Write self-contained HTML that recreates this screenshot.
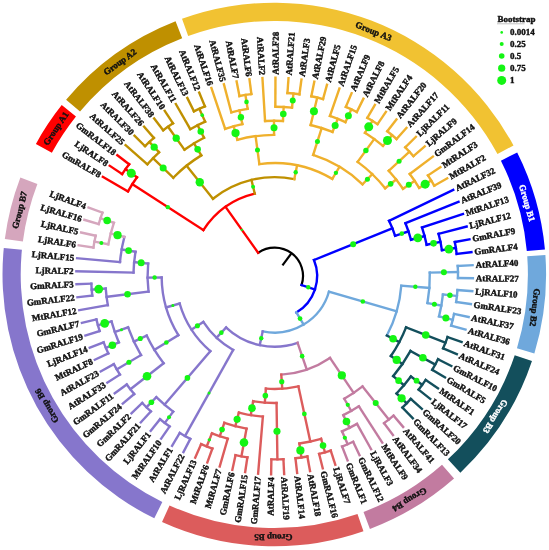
<!DOCTYPE html>
<html><head><meta charset="utf-8"><title>RALF phylogenetic tree</title>
<style>
html,body{margin:0;padding:0;background:#fff}
svg{display:block}
text{font-family:"Liberation Serif","Times New Roman",serif;font-weight:bold;font-size:9px;fill:#111;stroke:#111;stroke-width:0.4px}
</style></head><body>
<svg width="549" height="550" viewBox="0 0 549 550">
<rect width="549" height="550" fill="#fff"/>
<g><path d="M35.89 143.98A271.8 271.8 0 0 1 61.73 105.11L75.97 116.46A253.6 253.6 0 0 0 51.86 152.72Z" fill="#ff0000"/><path d="M66.09 99.79A271.8 271.8 0 0 1 175.57 21.27L182.18 38.22A253.6 253.6 0 0 0 80.03 111.49Z" fill="#bf9000"/><path d="M182.01 18.85A271.8 271.8 0 0 1 513.5 145.43L497.48 154.08A253.6 253.6 0 0 0 188.19 35.97Z" fill="#f1c232"/><path d="M517.18 152.5A271.8 271.8 0 0 1 544.94 249.39L526.82 251.07A253.6 253.6 0 0 0 500.92 160.67Z" fill="#0000ff"/><path d="M545.39 254.93A271.8 271.8 0 0 1 534.36 353.51L516.95 348.22A253.6 253.6 0 0 0 527.24 256.24Z" fill="#6fa8dc"/><path d="M531.98 360.97A271.8 271.8 0 0 1 460.36 472.63L447.9 459.37A253.6 253.6 0 0 0 514.72 355.18Z" fill="#134f5c"/><path d="M454.04 478.38A271.8 271.8 0 0 1 369.93 528.92L363.53 511.88A253.6 253.6 0 0 0 442.01 464.73Z" fill="#c27ba0"/><path d="M363.46 531.26A271.8 271.8 0 0 1 162.02 522.02L169.54 505.45A253.6 253.6 0 0 0 357.49 514.07Z" fill="#dc5c5c"/><path d="M154.3 518.37A271.8 271.8 0 0 1 3.8 247.98L21.91 249.75A253.6 253.6 0 0 0 162.33 502.04Z" fill="#8676cc"/><path d="M4.83 239.02A271.8 271.8 0 0 1 20.38 177.54L37.39 184.03A253.6 253.6 0 0 0 22.87 241.4Z" fill="#d5a6bd"/></g>
<g><text transform="translate(55.87 128.55) rotate(303.75)" text-anchor="middle" dy="3" style="fill:#111;stroke:#111">Group A1</text><text transform="translate(119.89 61.97) rotate(324)" text-anchor="middle" dy="3" style="fill:#111;stroke:#111">Group A2</text><text transform="translate(373.56 31.27) rotate(382.2)" text-anchor="middle" dy="3" style="fill:#111;stroke:#111">Group A3</text><text transform="translate(527.07 202.97) rotate(434.2)" text-anchor="middle" dy="3" style="fill:#fff;stroke:#fff">Group B1</text><text transform="translate(534.93 307.43) rotate(97.2)" text-anchor="middle" dy="3" style="fill:#111;stroke:#111">Group B2</text><text transform="translate(495.36 416.42) rotate(122.7)" text-anchor="middle" dy="3" style="fill:#fff;stroke:#fff">Group B3</text><text transform="translate(409.6 499.68) rotate(149)" text-anchor="middle" dy="3" style="fill:#111;stroke:#111">Group B4</text><text transform="translate(273.38 537.2) rotate(180.2)" text-anchor="middle" dy="3" style="fill:#111;stroke:#111">Group B5</text><text transform="translate(46.8 405.85) rotate(240)" text-anchor="middle" dy="3" style="fill:#111;stroke:#111">Group B6</text><text transform="translate(19.63 210.06) rotate(284.2)" text-anchor="middle" dy="3" style="fill:#111;stroke:#111">Group B7</text></g>
<g fill="none" stroke-linecap="square"><path d="M258.15 252.82A28.42 28.42 0 0 1 301.55 285.03" stroke="#000000" stroke-width="2.2"/><path d="M258.15 252.82L225.54 206.86" stroke="#ff0000" stroke-width="2.4"/><path d="M203.36 230.04A84.78 84.78 0 0 1 254.74 193.58" stroke="#ff0000" stroke-width="2.4"/><path d="M203.36 230.04L132.31 184.22" stroke="#ff0000" stroke-width="2.4"/><path d="M127.96 191.34A169.32 169.32 0 0 1 137.01 177.32" stroke="#ff0000" stroke-width="2.4"/><path d="M127.96 191.34L102.87 176.85" stroke="#ff0000" stroke-width="2.4"/><path d="M137.01 177.32L125.56 169.11" stroke="#ff0000" stroke-width="2.4"/><path d="M122.13 174.06A183.41 183.41 0 0 1 129.15 164.27" stroke="#ff0000" stroke-width="2.4"/><path d="M122.13 174.06L109.75 165.79" stroke="#ff0000" stroke-width="2.4"/><path d="M129.15 164.27L117.34 155.2" stroke="#ff0000" stroke-width="2.4"/><path d="M254.74 193.58L251.44 179.88" stroke="#bf9000" stroke-width="2.4"/><path d="M212.94 198.71A98.87 98.87 0 0 1 294.29 179.11" stroke="#bf9000" stroke-width="2.4"/><path d="M212.94 198.71L186.58 165.67" stroke="#bf9000" stroke-width="2.4"/><path d="M173.28 177.74A141.14 141.14 0 0 1 201.3 155.38" stroke="#bf9000" stroke-width="2.4"/><path d="M173.28 177.74L153.05 158.12" stroke="#bf9000" stroke-width="2.4"/><path d="M147.39 164.25A169.32 169.32 0 0 1 159.01 152.28" stroke="#bf9000" stroke-width="2.4"/><path d="M147.39 164.25L125.62 145.13" stroke="#bf9000" stroke-width="2.4"/><path d="M159.01 152.28L149.39 141.98" stroke="#bf9000" stroke-width="2.4"/><path d="M145.05 146.17A183.41 183.41 0 0 1 153.86 137.94" stroke="#bf9000" stroke-width="2.4"/><path d="M145.05 146.17L134.53 135.63" stroke="#bf9000" stroke-width="2.4"/><path d="M153.86 137.94L144.06 126.73" stroke="#bf9000" stroke-width="2.4"/><path d="M201.3 155.38L193.99 143.34" stroke="#bf9000" stroke-width="2.4"/><path d="M184.41 149.66A155.23 155.23 0 0 1 204.01 137.75" stroke="#bf9000" stroke-width="2.4"/><path d="M184.41 149.66L168.03 126.73" stroke="#bf9000" stroke-width="2.4"/><path d="M163.19 130.31A183.41 183.41 0 0 1 173 123.3" stroke="#bf9000" stroke-width="2.4"/><path d="M163.19 130.31L154.14 118.48" stroke="#bf9000" stroke-width="2.4"/><path d="M173 123.3L164.75 110.91" stroke="#bf9000" stroke-width="2.4"/><path d="M204.01 137.75L197.6 125.2" stroke="#bf9000" stroke-width="2.4"/><path d="M190.26 129.18A169.32 169.32 0 0 1 205.12 121.59" stroke="#bf9000" stroke-width="2.4"/><path d="M190.26 129.18L175.83 104.05" stroke="#bf9000" stroke-width="2.4"/><path d="M205.12 121.59L199.34 108.74" stroke="#bf9000" stroke-width="2.4"/><path d="M193.89 111.31A183.41 183.41 0 0 1 204.88 106.36" stroke="#bf9000" stroke-width="2.4"/><path d="M193.89 111.31L187.33 97.93" stroke="#bf9000" stroke-width="2.4"/><path d="M204.88 106.36L199.22 92.59" stroke="#bf9000" stroke-width="2.4"/><path d="M294.29 179.11L297.1 165.3" stroke="#efb02c" stroke-width="2.4"/><path d="M259.37 164.07A112.96 112.96 0 0 1 332.32 178.9" stroke="#efb02c" stroke-width="2.4"/><path d="M259.37 164.07L255.56 136.15" stroke="#efb02c" stroke-width="2.4"/><path d="M237.4 139.85A141.14 141.14 0 0 1 274.06 134.86" stroke="#efb02c" stroke-width="2.4"/><path d="M237.4 139.85L233.69 126.26" stroke="#efb02c" stroke-width="2.4"/><path d="M225.15 128.86A155.23 155.23 0 0 1 242.36 124.16" stroke="#efb02c" stroke-width="2.4"/><path d="M225.15 128.86L211.42 88.03" stroke="#efb02c" stroke-width="2.4"/><path d="M242.36 124.16L239.43 110.37" stroke="#efb02c" stroke-width="2.4"/><path d="M231.31 112.31A169.32 169.32 0 0 1 247.64 108.84" stroke="#efb02c" stroke-width="2.4"/><path d="M231.31 112.31L223.91 84.29" stroke="#efb02c" stroke-width="2.4"/><path d="M247.64 108.84L245.39 94.93" stroke="#efb02c" stroke-width="2.4"/><path d="M239.46 95.99A183.41 183.41 0 0 1 251.36 94.07" stroke="#efb02c" stroke-width="2.4"/><path d="M239.46 95.99L236.61 81.37" stroke="#efb02c" stroke-width="2.4"/><path d="M251.36 94.07L249.47 79.3" stroke="#efb02c" stroke-width="2.4"/><path d="M274.06 134.86L274.01 120.77" stroke="#efb02c" stroke-width="2.4"/><path d="M265.08 121.06A155.23 155.23 0 0 1 282.93 120.99" stroke="#efb02c" stroke-width="2.4"/><path d="M265.08 121.06L262.44 78.07" stroke="#efb02c" stroke-width="2.4"/><path d="M282.93 120.99L283.68 106.92" stroke="#efb02c" stroke-width="2.4"/><path d="M275.34 106.68A169.32 169.32 0 0 1 292 107.58" stroke="#efb02c" stroke-width="2.4"/><path d="M275.34 106.68L275.47 77.7" stroke="#efb02c" stroke-width="2.4"/><path d="M292 107.58L293.45 93.56" stroke="#efb02c" stroke-width="2.4"/><path d="M287.45 93.04A183.41 183.41 0 0 1 299.44 94.28" stroke="#efb02c" stroke-width="2.4"/><path d="M287.45 93.04L288.49 78.19" stroke="#efb02c" stroke-width="2.4"/><path d="M299.44 94.28L301.45 79.53" stroke="#efb02c" stroke-width="2.4"/><path d="M332.32 178.9L339.52 166.79" stroke="#efb02c" stroke-width="2.4"/><path d="M313.16 154.94A127.05 127.05 0 0 1 362.52 184.29" stroke="#efb02c" stroke-width="2.4"/><path d="M313.16 154.94L321.71 128.09" stroke="#efb02c" stroke-width="2.4"/><path d="M310.66 125.02A155.23 155.23 0 0 1 332.51 131.98" stroke="#efb02c" stroke-width="2.4"/><path d="M310.66 125.02L317.2 97.61" stroke="#efb02c" stroke-width="2.4"/><path d="M311.32 96.3A183.41 183.41 0 0 1 323.04 99.1" stroke="#efb02c" stroke-width="2.4"/><path d="M311.32 96.3L314.3 81.71" stroke="#efb02c" stroke-width="2.4"/><path d="M323.04 99.1L326.97 84.74" stroke="#efb02c" stroke-width="2.4"/><path d="M332.51 131.98L337.77 118.9" stroke="#efb02c" stroke-width="2.4"/><path d="M329.95 115.98A169.32 169.32 0 0 1 345.43 122.21" stroke="#efb02c" stroke-width="2.4"/><path d="M329.95 115.98L339.42 88.59" stroke="#efb02c" stroke-width="2.4"/><path d="M345.43 122.21L351.32 109.41" stroke="#efb02c" stroke-width="2.4"/><path d="M345.81 106.98A183.41 183.41 0 0 1 356.76 112.02" stroke="#efb02c" stroke-width="2.4"/><path d="M345.81 106.98L351.59 93.26" stroke="#efb02c" stroke-width="2.4"/><path d="M356.76 112.02L363.42 98.71" stroke="#efb02c" stroke-width="2.4"/><path d="M362.52 184.29L372.28 174.12" stroke="#efb02c" stroke-width="2.4"/><path d="M357.61 161.85A141.14 141.14 0 0 1 385.15 188.25" stroke="#efb02c" stroke-width="2.4"/><path d="M357.61 161.85L374.18 139.06" stroke="#efb02c" stroke-width="2.4"/><path d="M364.98 132.82A169.32 169.32 0 0 1 382.96 145.9" stroke="#efb02c" stroke-width="2.4"/><path d="M364.98 132.82L372.5 120.9" stroke="#efb02c" stroke-width="2.4"/><path d="M367.35 117.77A183.41 183.41 0 0 1 377.54 124.2" stroke="#efb02c" stroke-width="2.4"/><path d="M367.35 117.77L374.88 104.92" stroke="#efb02c" stroke-width="2.4"/><path d="M377.54 124.2L385.9 111.88" stroke="#efb02c" stroke-width="2.4"/><path d="M382.96 145.9L391.98 135.07" stroke="#efb02c" stroke-width="2.4"/><path d="M387.29 131.29A183.41 183.41 0 0 1 396.55 139" stroke="#efb02c" stroke-width="2.4"/><path d="M387.29 131.29L396.44 119.54" stroke="#efb02c" stroke-width="2.4"/><path d="M396.55 139L406.45 127.88" stroke="#efb02c" stroke-width="2.4"/><path d="M385.15 188.25L396.18 179.49" stroke="#efb02c" stroke-width="2.4"/><path d="M388.72 170.77A155.23 155.23 0 0 1 402.98 188.74" stroke="#efb02c" stroke-width="2.4"/><path d="M388.72 170.77L409.44 151.67" stroke="#efb02c" stroke-width="2.4"/><path d="M405.28 147.31A183.41 183.41 0 0 1 413.45 156.17" stroke="#efb02c" stroke-width="2.4"/><path d="M405.28 147.31L415.89 136.86" stroke="#efb02c" stroke-width="2.4"/><path d="M413.45 156.17L424.72 146.44" stroke="#efb02c" stroke-width="2.4"/><path d="M402.98 188.74L414.63 180.82" stroke="#efb02c" stroke-width="2.4"/><path d="M409.77 174.03A169.32 169.32 0 0 1 419.15 187.83" stroke="#efb02c" stroke-width="2.4"/><path d="M409.77 174.03L432.91 156.58" stroke="#efb02c" stroke-width="2.4"/><path d="M419.15 187.83L431.18 180.5" stroke="#efb02c" stroke-width="2.4"/><path d="M427.96 175.4A183.41 183.41 0 0 1 434.24 185.69" stroke="#efb02c" stroke-width="2.4"/><path d="M427.96 175.4L440.41 167.23" stroke="#efb02c" stroke-width="2.4"/><path d="M434.24 185.69L447.2 178.36" stroke="#efb02c" stroke-width="2.4"/><path d="M301.55 285.03L314.91 289.51" stroke="#0000ff" stroke-width="2.4"/><path d="M313.99 260.02A42.51 42.51 0 0 1 296.4 312.49" stroke="#0000ff" stroke-width="2.4"/><path d="M313.99 260.02L392.33 228.23" stroke="#0000ff" stroke-width="2.4"/><path d="M389.05 220.84A127.05 127.05 0 0 1 395.13 235.82" stroke="#0000ff" stroke-width="2.4"/><path d="M389.05 220.84L453.24 189.91" stroke="#0000ff" stroke-width="2.4"/><path d="M395.13 235.82L408.5 231.37" stroke="#0000ff" stroke-width="2.4"/><path d="M405.49 223.21A141.14 141.14 0 0 1 410.99 239.7" stroke="#0000ff" stroke-width="2.4"/><path d="M405.49 223.21L458.5 201.82" stroke="#0000ff" stroke-width="2.4"/><path d="M410.99 239.7L424.61 236.07" stroke="#0000ff" stroke-width="2.4"/><path d="M422.06 227.51A155.23 155.23 0 0 1 426.65 244.76" stroke="#0000ff" stroke-width="2.4"/><path d="M422.06 227.51L462.98 214.06" stroke="#0000ff" stroke-width="2.4"/><path d="M426.65 244.76L440.46 241.92" stroke="#0000ff" stroke-width="2.4"/><path d="M438.57 233.79A169.32 169.32 0 0 1 441.93 250.14" stroke="#0000ff" stroke-width="2.4"/><path d="M438.57 233.79L466.64 226.57" stroke="#0000ff" stroke-width="2.4"/><path d="M441.93 250.14L455.86 247.98" stroke="#0000ff" stroke-width="2.4"/><path d="M454.84 242.04A183.41 183.41 0 0 1 456.68 253.95" stroke="#0000ff" stroke-width="2.4"/><path d="M454.84 242.04L469.47 239.29" stroke="#0000ff" stroke-width="2.4"/><path d="M456.68 253.95L471.46 252.17" stroke="#0000ff" stroke-width="2.4"/><path d="M296.4 312.49L303.63 324.59" stroke="#6fa8dc" stroke-width="2.4"/><path d="M328.96 291.75A56.6 56.6 0 0 1 262.71 331.34" stroke="#6fa8dc" stroke-width="2.4"/><path d="M328.96 291.75L396.63 311.36" stroke="#6fa8dc" stroke-width="2.4"/><path d="M401.28 285.73A127.05 127.05 0 0 1 386.85 335.51" stroke="#6fa8dc" stroke-width="2.4"/><path d="M401.28 285.73L429.37 287.89" stroke="#6fa8dc" stroke-width="2.4"/><path d="M429.79 272.6A155.23 155.23 0 0 1 427.45 303.07" stroke="#6fa8dc" stroke-width="2.4"/><path d="M429.79 272.6L457.97 271.98" stroke="#6fa8dc" stroke-width="2.4"/><path d="M457.74 265.96A183.41 183.41 0 0 1 458 278.01" stroke="#6fa8dc" stroke-width="2.4"/><path d="M457.74 265.96L472.6 265.15" stroke="#6fa8dc" stroke-width="2.4"/><path d="M458 278.01L472.89 278.17" stroke="#6fa8dc" stroke-width="2.4"/><path d="M427.45 303.07L441.33 305.53" stroke="#6fa8dc" stroke-width="2.4"/><path d="M442.91 294.51A169.32 169.32 0 0 1 439.03 316.41" stroke="#6fa8dc" stroke-width="2.4"/><path d="M442.91 294.51L456.91 296.05" stroke="#6fa8dc" stroke-width="2.4"/><path d="M457.47 290.05A183.41 183.41 0 0 1 456.15 302.03" stroke="#6fa8dc" stroke-width="2.4"/><path d="M457.47 290.05L472.32 291.19" stroke="#6fa8dc" stroke-width="2.4"/><path d="M456.15 302.03L470.89 304.14" stroke="#6fa8dc" stroke-width="2.4"/><path d="M439.03 316.41L452.71 319.77" stroke="#6fa8dc" stroke-width="2.4"/><path d="M454.05 313.9A183.41 183.41 0 0 1 451.18 325.6" stroke="#6fa8dc" stroke-width="2.4"/><path d="M454.05 313.9L468.62 316.98" stroke="#6fa8dc" stroke-width="2.4"/><path d="M451.18 325.6L465.51 329.63" stroke="#6fa8dc" stroke-width="2.4"/><path d="M386.85 335.51L399.3 342.11" stroke="#134f5c" stroke-width="2.4"/><path d="M406.06 327.36A141.14 141.14 0 0 1 390.89 355.98" stroke="#134f5c" stroke-width="2.4"/><path d="M406.06 327.36L445.44 342.74" stroke="#134f5c" stroke-width="2.4"/><path d="M447.54 337.09A183.41 183.41 0 0 1 443.15 348.32" stroke="#134f5c" stroke-width="2.4"/><path d="M447.54 337.09L461.58 342.05" stroke="#134f5c" stroke-width="2.4"/><path d="M443.15 348.32L456.83 354.19" stroke="#134f5c" stroke-width="2.4"/><path d="M390.89 355.98L402.5 363.97" stroke="#134f5c" stroke-width="2.4"/><path d="M410.54 350.95A155.23 155.23 0 0 1 393.22 376.13" stroke="#134f5c" stroke-width="2.4"/><path d="M410.54 350.95L435.21 364.56" stroke="#134f5c" stroke-width="2.4"/><path d="M438.04 359.23A183.41 183.41 0 0 1 432.22 369.79" stroke="#134f5c" stroke-width="2.4"/><path d="M438.04 359.23L451.31 365.99" stroke="#134f5c" stroke-width="2.4"/><path d="M432.22 369.79L445.01 377.4" stroke="#134f5c" stroke-width="2.4"/><path d="M393.22 376.13L403.99 385.22" stroke="#134f5c" stroke-width="2.4"/><path d="M410.88 376.48A169.32 169.32 0 0 1 396.53 393.48" stroke="#134f5c" stroke-width="2.4"/><path d="M410.88 376.48L422.22 384.84" stroke="#134f5c" stroke-width="2.4"/><path d="M425.72 379.94A183.41 183.41 0 0 1 418.57 389.64" stroke="#134f5c" stroke-width="2.4"/><path d="M425.72 379.94L437.99 388.37" stroke="#134f5c" stroke-width="2.4"/><path d="M418.57 389.64L430.25 398.86" stroke="#134f5c" stroke-width="2.4"/><path d="M396.53 393.48L406.68 403.25" stroke="#134f5c" stroke-width="2.4"/><path d="M410.79 398.85A183.41 183.41 0 0 1 402.43 407.53" stroke="#134f5c" stroke-width="2.4"/><path d="M410.79 398.85L421.85 408.82" stroke="#134f5c" stroke-width="2.4"/><path d="M402.43 407.53L412.81 418.2" stroke="#134f5c" stroke-width="2.4"/><path d="M262.71 331.34L259.75 345.11" stroke="#8676cc" stroke-width="2.4"/><path d="M297.58 342.85A70.69 70.69 0 0 1 226.19 327.51" stroke="#8676cc" stroke-width="2.4"/><path d="M297.58 342.85L306.74 369.5" stroke="#c27ba0" stroke-width="2.4"/><path d="M329.98 357.91A98.87 98.87 0 0 1 281.29 374.64" stroke="#c27ba0" stroke-width="2.4"/><path d="M329.98 357.91L353.65 392.92" stroke="#c27ba0" stroke-width="2.4"/><path d="M362.53 386.4A141.14 141.14 0 0 1 344.3 398.73" stroke="#c27ba0" stroke-width="2.4"/><path d="M362.53 386.4L388.86 419.47" stroke="#c27ba0" stroke-width="2.4"/><path d="M393.52 415.64A183.41 183.41 0 0 1 384.09 423.15" stroke="#c27ba0" stroke-width="2.4"/><path d="M393.52 415.64L403.17 426.97" stroke="#c27ba0" stroke-width="2.4"/><path d="M384.09 423.15L392.98 435.09" stroke="#c27ba0" stroke-width="2.4"/><path d="M344.3 398.73L351.25 410.98" stroke="#c27ba0" stroke-width="2.4"/><path d="M358.89 406.35A155.23 155.23 0 0 1 343.37 415.17" stroke="#c27ba0" stroke-width="2.4"/><path d="M358.89 406.35L382.27 442.52" stroke="#c27ba0" stroke-width="2.4"/><path d="M343.37 415.17L349.61 427.8" stroke="#c27ba0" stroke-width="2.4"/><path d="M357 423.92A169.32 169.32 0 0 1 342.04 431.31" stroke="#c27ba0" stroke-width="2.4"/><path d="M357 423.92L371.1 449.23" stroke="#c27ba0" stroke-width="2.4"/><path d="M342.04 431.31L347.65 444.23" stroke="#c27ba0" stroke-width="2.4"/><path d="M353.14 441.74A183.41 183.41 0 0 1 342.09 446.54" stroke="#c27ba0" stroke-width="2.4"/><path d="M353.14 441.74L359.52 455.2" stroke="#c27ba0" stroke-width="2.4"/><path d="M342.09 446.54L347.56 460.39" stroke="#c27ba0" stroke-width="2.4"/><path d="M281.29 374.64L282.24 388.7" stroke="#dc5c5c" stroke-width="2.4"/><path d="M298.42 386.42A112.96 112.96 0 0 1 265.9 388.62" stroke="#dc5c5c" stroke-width="2.4"/><path d="M298.42 386.42L310.31 441.51" stroke="#dc5c5c" stroke-width="2.4"/><path d="M321.1 438.81A169.32 169.32 0 0 1 299.36 443.5" stroke="#dc5c5c" stroke-width="2.4"/><path d="M321.1 438.81L324.97 452.36" stroke="#dc5c5c" stroke-width="2.4"/><path d="M330.74 450.61A183.41 183.41 0 0 1 319.15 453.92" stroke="#dc5c5c" stroke-width="2.4"/><path d="M330.74 450.61L335.3 464.78" stroke="#dc5c5c" stroke-width="2.4"/><path d="M319.15 453.92L322.77 468.36" stroke="#dc5c5c" stroke-width="2.4"/><path d="M299.36 443.5L301.42 457.44" stroke="#dc5c5c" stroke-width="2.4"/><path d="M307.37 456.46A183.41 183.41 0 0 1 295.45 458.22" stroke="#dc5c5c" stroke-width="2.4"/><path d="M307.37 456.46L310.03 471.11" stroke="#dc5c5c" stroke-width="2.4"/><path d="M295.45 458.22L297.14 473.01" stroke="#dc5c5c" stroke-width="2.4"/><path d="M265.9 388.62L264.81 402.67" stroke="#dc5c5c" stroke-width="2.4"/><path d="M276.55 403.04A127.05 127.05 0 0 1 253.17 401.23" stroke="#dc5c5c" stroke-width="2.4"/><path d="M276.55 403.04L277.41 459.39" stroke="#dc5c5c" stroke-width="2.4"/><path d="M283.43 459.2A183.41 183.41 0 0 1 271.38 459.38" stroke="#dc5c5c" stroke-width="2.4"/><path d="M283.43 459.2L284.15 474.07" stroke="#dc5c5c" stroke-width="2.4"/><path d="M271.38 459.38L271.12 474.27" stroke="#dc5c5c" stroke-width="2.4"/><path d="M253.17 401.23L250.79 415.12" stroke="#dc5c5c" stroke-width="2.4"/><path d="M262.86 416.65A141.14 141.14 0 0 1 238.89 412.55" stroke="#dc5c5c" stroke-width="2.4"/><path d="M262.86 416.65L258.11 473.61" stroke="#dc5c5c" stroke-width="2.4"/><path d="M238.89 412.55L235.33 426.18" stroke="#dc5c5c" stroke-width="2.4"/><path d="M246.53 428.67A155.23 155.23 0 0 1 224.34 422.87" stroke="#dc5c5c" stroke-width="2.4"/><path d="M246.53 428.67L241.43 456.39" stroke="#dc5c5c" stroke-width="2.4"/><path d="M247.38 457.38A183.41 183.41 0 0 1 235.52 455.2" stroke="#dc5c5c" stroke-width="2.4"/><path d="M247.38 457.38L245.17 472.1" stroke="#dc5c5c" stroke-width="2.4"/><path d="M235.52 455.2L232.35 469.75" stroke="#dc5c5c" stroke-width="2.4"/><path d="M224.34 422.87L219.78 436.2" stroke="#dc5c5c" stroke-width="2.4"/><path d="M227.74 438.71A169.32 169.32 0 0 1 211.95 433.3" stroke="#dc5c5c" stroke-width="2.4"/><path d="M227.74 438.71L219.72 466.55" stroke="#dc5c5c" stroke-width="2.4"/><path d="M211.95 433.3L206.74 446.39" stroke="#dc5c5c" stroke-width="2.4"/><path d="M212.37 448.53A183.41 183.41 0 0 1 201.17 444.07" stroke="#dc5c5c" stroke-width="2.4"/><path d="M212.37 448.53L207.32 462.54" stroke="#dc5c5c" stroke-width="2.4"/><path d="M201.17 444.07L195.21 457.72" stroke="#dc5c5c" stroke-width="2.4"/><path d="M226.19 327.51L216.54 337.78" stroke="#8676cc" stroke-width="2.4"/><path d="M233.18 349.97A84.78 84.78 0 0 1 203.34 321.93" stroke="#8676cc" stroke-width="2.4"/><path d="M233.18 349.97L184.99 436.03" stroke="#8676cc" stroke-width="2.4"/><path d="M190.3 438.89A183.41 183.41 0 0 1 179.78 433" stroke="#8676cc" stroke-width="2.4"/><path d="M190.3 438.89L183.45 452.11" stroke="#8676cc" stroke-width="2.4"/><path d="M179.78 433L172.08 445.74" stroke="#8676cc" stroke-width="2.4"/><path d="M203.34 321.93L191.5 329.56" stroke="#8676cc" stroke-width="2.4"/><path d="M210.33 351.13A98.87 98.87 0 0 1 179.63 303.51" stroke="#8676cc" stroke-width="2.4"/><path d="M210.33 351.13L164.54 404.67" stroke="#8676cc" stroke-width="2.4"/><path d="M173.22 411.62A169.32 169.32 0 0 1 156.32 397.16" stroke="#8676cc" stroke-width="2.4"/><path d="M173.22 411.62L164.79 422.9" stroke="#8676cc" stroke-width="2.4"/><path d="M169.67 426.43A183.41 183.41 0 0 1 160.02 419.22" stroke="#8676cc" stroke-width="2.4"/><path d="M169.67 426.43L161.15 438.64" stroke="#8676cc" stroke-width="2.4"/><path d="M160.02 419.22L150.72 430.84" stroke="#8676cc" stroke-width="2.4"/><path d="M156.32 397.16L146.48 407.24" stroke="#8676cc" stroke-width="2.4"/><path d="M150.86 411.38A183.41 183.41 0 0 1 142.24 402.96" stroke="#8676cc" stroke-width="2.4"/><path d="M150.86 411.38L140.82 422.37" stroke="#8676cc" stroke-width="2.4"/><path d="M142.24 402.96L131.49 413.27" stroke="#8676cc" stroke-width="2.4"/><path d="M179.63 303.51L166.1 307.42" stroke="#8676cc" stroke-width="2.4"/><path d="M178.36 335.14A112.96 112.96 0 0 1 161.65 277.45" stroke="#8676cc" stroke-width="2.4"/><path d="M178.36 335.14L154.35 349.89" stroke="#8676cc" stroke-width="2.4"/><path d="M163.62 363.2A141.14 141.14 0 0 1 146.66 335.6" stroke="#8676cc" stroke-width="2.4"/><path d="M163.62 363.2L130.38 389.32" stroke="#8676cc" stroke-width="2.4"/><path d="M134.18 393.99A183.41 183.41 0 0 1 126.74 384.52" stroke="#8676cc" stroke-width="2.4"/><path d="M134.18 393.99L122.78 403.57" stroke="#8676cc" stroke-width="2.4"/><path d="M126.74 384.52L114.73 393.33" stroke="#8676cc" stroke-width="2.4"/><path d="M146.66 335.6L133.89 341.55" stroke="#8676cc" stroke-width="2.4"/><path d="M141.02 355.08A155.23 155.23 0 0 1 128.12 327.38" stroke="#8676cc" stroke-width="2.4"/><path d="M141.02 355.08L116.78 369.44" stroke="#8676cc" stroke-width="2.4"/><path d="M119.93 374.57A183.41 183.41 0 0 1 113.79 364.2" stroke="#8676cc" stroke-width="2.4"/><path d="M119.93 374.57L107.37 382.57" stroke="#8676cc" stroke-width="2.4"/><path d="M113.79 364.2L100.74 371.36" stroke="#8676cc" stroke-width="2.4"/><path d="M128.12 327.38L114.82 332.05" stroke="#8676cc" stroke-width="2.4"/><path d="M118.85 342.42A169.32 169.32 0 0 1 111.49 321.43" stroke="#8676cc" stroke-width="2.4"/><path d="M118.85 342.42L105.89 347.95" stroke="#8676cc" stroke-width="2.4"/><path d="M108.34 353.45A183.41 183.41 0 0 1 103.62 342.36" stroke="#8676cc" stroke-width="2.4"/><path d="M108.34 353.45L94.85 359.74" stroke="#8676cc" stroke-width="2.4"/><path d="M103.62 342.36L89.74 347.75" stroke="#8676cc" stroke-width="2.4"/><path d="M111.49 321.43L97.92 325.21" stroke="#8676cc" stroke-width="2.4"/><path d="M99.63 330.99A183.41 183.41 0 0 1 96.39 319.38" stroke="#8676cc" stroke-width="2.4"/><path d="M99.63 330.99L85.42 335.45" stroke="#8676cc" stroke-width="2.4"/><path d="M96.39 319.38L81.93 322.9" stroke="#8676cc" stroke-width="2.4"/><path d="M161.65 277.45L147.56 277.63" stroke="#8676cc" stroke-width="2.4"/><path d="M148.52 291.68A127.05 127.05 0 0 1 148.16 263.56" stroke="#8676cc" stroke-width="2.4"/><path d="M148.52 291.68L106.58 296.9" stroke="#8676cc" stroke-width="2.4"/><path d="M107.81 305.16A169.32 169.32 0 0 1 105.75 288.6" stroke="#8676cc" stroke-width="2.4"/><path d="M107.81 305.16L79.26 310.15" stroke="#8676cc" stroke-width="2.4"/><path d="M105.75 288.6L91.7 289.65" stroke="#8676cc" stroke-width="2.4"/><path d="M92.25 295.65A183.41 183.41 0 0 1 91.35 283.63" stroke="#8676cc" stroke-width="2.4"/><path d="M92.25 295.65L77.44 297.24" stroke="#8676cc" stroke-width="2.4"/><path d="M91.35 283.63L76.47 284.25" stroke="#8676cc" stroke-width="2.4"/><path d="M148.16 263.56L134.14 262.18" stroke="#8676cc" stroke-width="2.4"/><path d="M133.5 272.6A141.14 141.14 0 0 1 135.54 251.84" stroke="#8676cc" stroke-width="2.4"/><path d="M133.5 272.6L76.36 271.22" stroke="#8676cc" stroke-width="2.4"/><path d="M135.54 251.84L121.66 249.43" stroke="#8676cc" stroke-width="2.4"/><path d="M120 262.07A155.23 155.23 0 0 1 124.36 236.97" stroke="#8676cc" stroke-width="2.4"/><path d="M120 262.07L77.1 258.21" stroke="#8676cc" stroke-width="2.4"/><path d="M124.36 236.97L110.72 233.43" stroke="#d5a6bd" stroke-width="2.4"/><path d="M108.28 244.28A169.32 169.32 0 0 1 113.87 222.76" stroke="#d5a6bd" stroke-width="2.4"/><path d="M108.28 244.28L94.44 241.65" stroke="#d5a6bd" stroke-width="2.4"/><path d="M93.4 247.58A183.41 183.41 0 0 1 95.66 235.74" stroke="#d5a6bd" stroke-width="2.4"/><path d="M93.4 247.58L78.69 245.28" stroke="#d5a6bd" stroke-width="2.4"/><path d="M95.66 235.74L81.14 232.48" stroke="#d5a6bd" stroke-width="2.4"/><path d="M113.87 222.76L100.49 218.33" stroke="#d5a6bd" stroke-width="2.4"/><path d="M98.69 224.08A183.41 183.41 0 0 1 102.48 212.64" stroke="#d5a6bd" stroke-width="2.4"/><path d="M98.69 224.08L84.41 219.86" stroke="#d5a6bd" stroke-width="2.4"/><path d="M102.48 212.64L88.51 207.49" stroke="#d5a6bd" stroke-width="2.4"/><path d="M291.54 253.18L282.47 265.4" stroke="#000" stroke-width="2.2" stroke-linecap="butt"/></g>
<g fill="#14f514"><circle cx="241.84" cy="229.84" r="1.2"/><circle cx="167.84" cy="207.13" r="2.2"/><circle cx="131.28" cy="173.21" r="4.5"/><circle cx="253.09" cy="186.73" r="2.0"/><circle cx="199.76" cy="182.19" r="4.2"/><circle cx="163.17" cy="167.93" r="3.5"/><circle cx="154.2" cy="147.13" r="3.6"/><circle cx="197.64" cy="149.36" r="3.3"/><circle cx="176.22" cy="138.19" r="3.65"/><circle cx="200.8" cy="131.48" r="3.3"/><circle cx="202.23" cy="115.17" r="1.8"/><circle cx="295.7" cy="172.21" r="2.2"/><circle cx="257.47" cy="150.11" r="2.5"/><circle cx="235.54" cy="133.05" r="4.1"/><circle cx="240.9" cy="117.26" r="3.2"/><circle cx="246.51" cy="101.89" r="2.3"/><circle cx="274.03" cy="127.82" r="3.5"/><circle cx="283.31" cy="113.96" r="3.3"/><circle cx="292.73" cy="100.57" r="3.0"/><circle cx="335.92" cy="172.85" r="2.2"/><circle cx="317.44" cy="141.52" r="2.5"/><circle cx="313.93" cy="111.31" r="4.0"/><circle cx="335.14" cy="125.44" r="3.5"/><circle cx="348.38" cy="115.81" r="3.5"/><circle cx="367.4" cy="179.2" r="2.5"/><circle cx="365.9" cy="150.46" r="2.7"/><circle cx="368.74" cy="126.86" r="4.5"/><circle cx="387.47" cy="140.48" r="4.5"/><circle cx="390.67" cy="183.87" r="2.8"/><circle cx="399.08" cy="161.22" r="2.5"/><circle cx="408.81" cy="184.78" r="3.0"/><circle cx="425.17" cy="184.16" r="4.5"/><circle cx="308.23" cy="287.27" r="2.2"/><circle cx="353.16" cy="244.13" r="3.0"/><circle cx="401.81" cy="233.59" r="2.4"/><circle cx="417.8" cy="237.88" r="4.4"/><circle cx="433.55" cy="243.34" r="3.3"/><circle cx="448.9" cy="249.06" r="4.4"/><circle cx="300.02" cy="318.54" r="2.4"/><circle cx="362.8" cy="301.56" r="2.3"/><circle cx="415.33" cy="286.81" r="2.2"/><circle cx="443.88" cy="272.29" r="3.0"/><circle cx="434.39" cy="304.3" r="2.5"/><circle cx="449.91" cy="295.28" r="2.7"/><circle cx="445.87" cy="318.09" r="3.5"/><circle cx="393.08" cy="338.81" r="3.8"/><circle cx="425.75" cy="335.05" r="3.8"/><circle cx="396.69" cy="359.97" r="4.1"/><circle cx="422.88" cy="357.75" r="3.8"/><circle cx="398.6" cy="380.67" r="3.3"/><circle cx="416.55" cy="380.66" r="2.9"/><circle cx="401.61" cy="398.37" r="4.1"/><circle cx="261.23" cy="338.23" r="2.2"/><circle cx="302.16" cy="356.17" r="2.3"/><circle cx="341.82" cy="375.41" r="4.1"/><circle cx="375.7" cy="402.94" r="3.0"/><circle cx="347.78" cy="404.86" r="2.1"/><circle cx="346.49" cy="421.48" r="3.8"/><circle cx="344.85" cy="437.77" r="2.1"/><circle cx="281.76" cy="381.67" r="2.6"/><circle cx="304.37" cy="413.97" r="2.4"/><circle cx="323.04" cy="445.58" r="3.3"/><circle cx="300.39" cy="450.47" r="4.1"/><circle cx="265.36" cy="395.65" r="2.8"/><circle cx="276.98" cy="431.21" r="3.55"/><circle cx="251.98" cy="408.17" r="3.8"/><circle cx="237.11" cy="419.36" r="3.55"/><circle cx="243.98" cy="442.53" r="4.3"/><circle cx="222.06" cy="429.53" r="2.8"/><circle cx="209.34" cy="439.85" r="1.7"/><circle cx="221.37" cy="332.65" r="2.3"/><circle cx="209.08" cy="393" r="1.5"/><circle cx="197.42" cy="325.75" r="2.55"/><circle cx="187.43" cy="377.9" r="2.8"/><circle cx="169.01" cy="417.26" r="2.0"/><circle cx="151.4" cy="402.2" r="2.8"/><circle cx="172.87" cy="305.46" r="1.5"/><circle cx="166.35" cy="342.51" r="2.3"/><circle cx="147" cy="376.26" r="4.3"/><circle cx="140.28" cy="338.57" r="2.55"/><circle cx="128.9" cy="362.26" r="2.55"/><circle cx="121.47" cy="329.71" r="1.5"/><circle cx="112.37" cy="345.18" r="3.8"/><circle cx="104.7" cy="323.32" r="4.4"/><circle cx="154.6" cy="277.54" r="2.2"/><circle cx="127.55" cy="294.29" r="3.3"/><circle cx="98.72" cy="289.12" r="4.4"/><circle cx="141.15" cy="262.87" r="3.5"/><circle cx="128.6" cy="250.64" r="3.3"/><circle cx="117.54" cy="235.2" r="4.1"/><circle cx="101.36" cy="242.97" r="2.0"/><circle cx="107.18" cy="220.54" r="3.8"/></g>
<g><text transform="translate(100.36 175.4) rotate(390)" text-anchor="end" dy="3">GmRALF8</text><text transform="translate(107.34 164.17) rotate(393.77)" text-anchor="end" dy="3">LjRALF8</text><text transform="translate(115.04 153.43) rotate(397.53)" text-anchor="end" dy="3">GmRALF18</text><text transform="translate(123.44 143.22) rotate(401.3)" text-anchor="end" dy="3">AtRALF25</text><text transform="translate(132.49 133.57) rotate(405.06)" text-anchor="end" dy="3">AtRALF30</text><text transform="translate(142.15 124.55) rotate(408.83)" text-anchor="end" dy="3">AtRALF26</text><text transform="translate(152.38 116.18) rotate(412.59)" text-anchor="end" dy="3">AtRALF38</text><text transform="translate(163.14 108.49) rotate(416.36)" text-anchor="end" dy="3">AtRALF10</text><text transform="translate(174.38 101.54) rotate(420.13)" text-anchor="end" dy="3">AtRALF11</text><text transform="translate(186.06 95.33) rotate(423.89)" text-anchor="end" dy="3">AtRALF13</text><text transform="translate(198.11 89.91) rotate(427.66)" text-anchor="end" dy="3">AtRALF12</text><text transform="translate(210.5 85.28) rotate(431.42)" text-anchor="end" dy="3">AtRALF16</text><text transform="translate(223.16 81.49) rotate(435.19)" text-anchor="end" dy="3">AtRALF35</text><text transform="translate(236.05 78.53) rotate(438.95)" text-anchor="end" dy="3">AtRALF7</text><text transform="translate(249.1 76.42) rotate(442.72)" text-anchor="end" dy="3">AtRALF6</text><text transform="translate(262.27 75.18) rotate(446.49)" text-anchor="end" dy="3">AtRALF2</text><text transform="translate(275.48 74.8) rotate(270.25)" dy="3">AtRALF28</text><text transform="translate(288.69 75.29) rotate(274.02)" dy="3">AtRALF21</text><text transform="translate(301.85 76.65) rotate(277.78)" dy="3">AtRALF3</text><text transform="translate(314.88 78.87) rotate(281.55)" dy="3">AtRALF29</text><text transform="translate(327.74 81.94) rotate(285.31)" dy="3">AtRALF5</text><text transform="translate(340.37 85.85) rotate(289.08)" dy="3">AtRALF15</text><text transform="translate(352.72 90.58) rotate(292.85)" dy="3">AtRALF9</text><text transform="translate(364.72 96.11) rotate(296.61)" dy="3">AtRALF8</text><text transform="translate(376.34 102.42) rotate(300.38)" dy="3">MtRALF5</text><text transform="translate(387.52 109.48) rotate(304.14)" dy="3">MtRALF4</text><text transform="translate(398.22 117.25) rotate(307.91)" dy="3">AtRALF20</text><text transform="translate(408.38 125.72) rotate(311.67)" dy="3">AtRALF17</text><text transform="translate(417.96 134.83) rotate(315.44)" dy="3">LjRALF11</text><text transform="translate(426.92 144.55) rotate(319.21)" dy="3">LjRALF9</text><text transform="translate(435.22 154.83) rotate(322.97)" dy="3">GmRALF14</text><text transform="translate(442.84 165.64) rotate(326.74)" dy="3">MtRALF3</text><text transform="translate(449.72 176.93) rotate(330.5)" dy="3">MtRALF2</text><text transform="translate(455.85 188.65) rotate(334.27)" dy="3">AtRALF32</text><text transform="translate(461.19 200.74) rotate(338.03)" dy="3">AtRALF39</text><text transform="translate(465.73 213.16) rotate(341.8)" dy="3">MtRALF13</text><text transform="translate(469.45 225.85) rotate(345.57)" dy="3">LjRALF12</text><text transform="translate(472.32 238.75) rotate(349.33)" dy="3">GmRALF9</text><text transform="translate(474.34 251.82) rotate(353.1)" dy="3">GmRALF4</text><text transform="translate(475.5 264.99) rotate(356.86)" dy="3">AtRALF40</text><text transform="translate(475.79 278.21) rotate(0.63)" dy="3">AtRALF27</text><text transform="translate(475.21 291.41) rotate(4.39)" dy="3">LjRALF10</text><text transform="translate(473.76 304.56) rotate(8.16)" dy="3">GmRALF23</text><text transform="translate(471.46 317.57) rotate(11.93)" dy="3">AtRALF37</text><text transform="translate(468.3 330.41) rotate(15.69)" dy="3">AtRALF36</text><text transform="translate(464.31 343.02) rotate(19.46)" dy="3">AtRALF31</text><text transform="translate(459.5 355.33) rotate(23.22)" dy="3">AtRALF24</text><text transform="translate(453.89 367.31) rotate(26.99)" dy="3">GmRALF10</text><text transform="translate(447.51 378.88) rotate(30.75)" dy="3">GmRALF5</text><text transform="translate(440.38 390.02) rotate(34.52)" dy="3">MtRALF1</text><text transform="translate(432.53 400.66) rotate(38.28)" dy="3">LjRALF17</text><text transform="translate(424 410.76) rotate(42.05)" dy="3">GmRALF20</text><text transform="translate(414.83 420.28) rotate(45.82)" dy="3">GmRALF13</text><text transform="translate(405.05 429.18) rotate(49.58)" dy="3">AtRALF41</text><text transform="translate(394.71 437.42) rotate(53.35)" dy="3">AtRALF34</text><text transform="translate(383.85 444.96) rotate(57.11)" dy="3">MtRALF9</text><text transform="translate(372.51 451.77) rotate(60.88)" dy="3">LjRALF3</text><text transform="translate(360.76 457.82) rotate(64.64)" dy="3">GmRALF12</text><text transform="translate(348.63 463.08) rotate(68.41)" dy="3">GmRALF1</text><text transform="translate(336.19 467.54) rotate(72.18)" dy="3">LjRALF7</text><text transform="translate(323.47 471.17) rotate(75.94)" dy="3">GmRALF16</text><text transform="translate(310.55 473.96) rotate(79.71)" dy="3">AtRALF18</text><text transform="translate(297.47 475.9) rotate(83.47)" dy="3">AtRALF14</text><text transform="translate(284.29 476.97) rotate(87.24)" dy="3">AtRALF19</text><text transform="translate(271.07 477.17) rotate(271)" text-anchor="end" dy="3">AtRALF4</text><text transform="translate(257.87 476.5) rotate(274.77)" text-anchor="end" dy="3">GmRALF17</text><text transform="translate(244.74 474.97) rotate(278.54)" text-anchor="end" dy="3">GmRALF15</text><text transform="translate(231.73 472.58) rotate(282.3)" text-anchor="end" dy="3">GmRALF6</text><text transform="translate(218.91 469.34) rotate(286.07)" text-anchor="end" dy="3">MtRALF7</text><text transform="translate(206.34 465.27) rotate(289.83)" text-anchor="end" dy="3">MtRALF6</text><text transform="translate(194.05 460.37) rotate(293.6)" text-anchor="end" dy="3">LjRALF13</text><text transform="translate(182.12 454.69) rotate(297.36)" text-anchor="end" dy="3">AtRALF22</text><text transform="translate(170.58 448.23) rotate(301.13)" text-anchor="end" dy="3">AtRALF1</text><text transform="translate(159.5 441.02) rotate(304.9)" text-anchor="end" dy="3">MtRALF10</text><text transform="translate(148.91 433.11) rotate(308.66)" text-anchor="end" dy="3">LjRALF1</text><text transform="translate(138.86 424.51) rotate(312.43)" text-anchor="end" dy="3">GmRALF21</text><text transform="translate(129.4 415.28) rotate(316.19)" text-anchor="end" dy="3">GmRALF2</text><text transform="translate(120.56 405.44) rotate(319.96)" text-anchor="end" dy="3">GmRALF24</text><text transform="translate(112.4 395.04) rotate(323.72)" text-anchor="end" dy="3">GmRALF11</text><text transform="translate(104.93 384.13) rotate(327.49)" text-anchor="end" dy="3">AtRALF33</text><text transform="translate(98.19 372.76) rotate(331.26)" text-anchor="end" dy="3">AtRALF23</text><text transform="translate(92.22 360.96) rotate(335.02)" text-anchor="end" dy="3">MtRALF8</text><text transform="translate(87.03 348.8) rotate(338.79)" text-anchor="end" dy="3">LjRALF14</text><text transform="translate(82.66 336.32) rotate(342.55)" text-anchor="end" dy="3">GmRALF19</text><text transform="translate(79.11 323.59) rotate(346.32)" text-anchor="end" dy="3">GmRALF7</text><text transform="translate(76.41 310.65) rotate(350.08)" text-anchor="end" dy="3">MtRALF12</text><text transform="translate(74.56 297.55) rotate(353.85)" text-anchor="end" dy="3">GmRALF22</text><text transform="translate(73.57 284.37) rotate(357.62)" text-anchor="end" dy="3">GmRALF3</text><text transform="translate(73.46 271.15) rotate(361.38)" text-anchor="end" dy="3">LjRALF2</text><text transform="translate(74.21 257.95) rotate(365.15)" text-anchor="end" dy="3">LjRALF15</text><text transform="translate(75.83 244.83) rotate(368.91)" text-anchor="end" dy="3">LjRALF6</text><text transform="translate(78.31 231.84) rotate(372.68)" text-anchor="end" dy="3">LjRALF5</text><text transform="translate(81.63 219.04) rotate(376.44)" text-anchor="end" dy="3">LjRALF16</text><text transform="translate(85.79 206.49) rotate(380.21)" text-anchor="end" dy="3">LjRALF4</text></g>
<g><text x="497.6" y="21.6" font-size="9.2">Bootstrap</text><path d="M497 23.8H524.5" stroke="#999" stroke-width="0.6"/><circle cx="501.7" cy="32.4" r="1.3" fill="#14f514"/><text x="510" y="35.4" font-size="9">0.0014</text><circle cx="501.7" cy="44" r="2.0" fill="#14f514"/><text x="510" y="47" font-size="9">0.25</text><circle cx="501.7" cy="56" r="2.8" fill="#14f514"/><text x="510" y="59" font-size="9">0.5</text><circle cx="501.7" cy="68.2" r="3.6" fill="#14f514"/><text x="510" y="71.2" font-size="9">0.75</text><circle cx="501.7" cy="80.4" r="4.5" fill="#14f514"/><text x="510" y="83.4" font-size="9">1</text></g>
</svg>
</body></html>
